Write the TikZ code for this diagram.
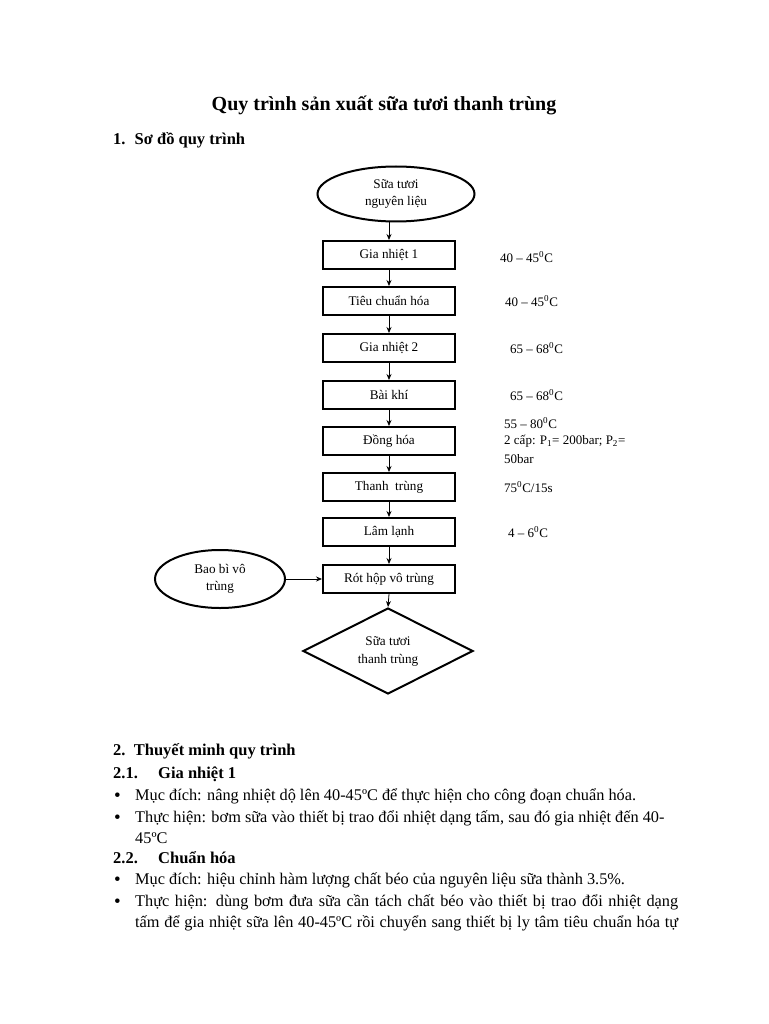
\documentclass[tikz,border=0pt]{standalone}
\usepackage{fontspec}
\setmainfont{Liberation Serif}
\usetikzlibrary{shapes.geometric,arrows.meta}
\begin{document}
\begin{tikzpicture}[x=1pt,y=-1pt,
  stepbox/.style={draw,line width=2pt,minimum width=132pt,minimum height=28pt,inner sep=0pt,font=\fontsize{13.2}{14}\selectfont},
  ellbox/.style={draw,line width=2pt,ellipse,inner sep=0pt,font=\fontsize{13.2}{17}\selectfont,align=center},
  diabox/.style={draw,line width=2pt,diamond,aspect=1.98,inner sep=0pt,minimum width=170pt,minimum height=86pt,font=\fontsize{13.2}{18}\selectfont,align=center},
  flow/.style={line width=0.8pt,-{Stealth[length=6pt,width=5pt]}},
  cond/.style={anchor=west,font=\fontsize{13}{18}\selectfont,inner sep=0pt},
  body/.style={anchor=base west,font=\fontsize{16.3}{20}\selectfont,inner sep=0pt},
  bul/.style={anchor=base west,font=\fontsize{19}{20}\selectfont,inner sep=0pt},
  head/.style={anchor=base west,font=\fontsize{16.5}{20}\selectfont\bfseries,inner sep=0pt}]
\useasboundingbox (0,0) rectangle (768,1024);
\fill[white] (0,0) rectangle (768,1024);
% title
\node[font=\fontsize{20}{22}\selectfont\bfseries,inner sep=0pt] (title) at (384,105) {Quy trình sản xuất sữa tươi thanh trùng};
\node[head,anchor=west] (s1) at (113,140) {1.\hspace{0.55em}Sơ đồ quy trình};
% flowchart
\node[ellbox,minimum width=157pt,minimum height=55pt] (e1) at (396,194) {Sữa tươi\\nguyên liệu};
\node[stepbox] (b1) at (389,255) {Gia nhiệt 1};
\node[stepbox] (b2) at (389,301) {Tiêu chuẩn hóa};
\node[stepbox] (b3) at (389,348) {Gia nhiệt 2};
\node[stepbox] (b4) at (389,395) {Bài khí};
\node[stepbox] (b5) at (389,441) {Đồng hóa};
\node[stepbox] (b6) at (389,487) {Thanh\ \ trùng};
\node[stepbox] (b7) at (389,532) {Lâm lạnh};
\node[stepbox] (b8) at (389,579) {Rót hộp vô trùng};
\node[diabox] (d1) at (388,651) {Sữa tươi\\thanh trùng};
\node[ellbox,minimum width=130pt,minimum height=58pt] (e2) at (220,579) {Bao bì vô\\trùng};
\coordinate (e1b) at (389,221);
\draw[flow] (e1b) -- (b1.north);
\draw[flow] (b1) -- (b2);
\draw[flow] (b2) -- (b3);
\draw[flow] (b3) -- (b4);
\draw[flow] (b4) -- (b5);
\draw[flow] (b5) -- (b6);
\draw[flow] (b6) -- (b7);
\draw[flow] (b7) -- (b8);
\draw[flow] (b8.south) -- (d1.north);
\draw[flow] (e2.east) -- (b8.west);
% conditions
\node[cond] (c1) at (500,257) {40 – 45\textsuperscript{0}C};
\node[cond] (c2) at (505,301) {40 – 45\textsuperscript{0}C};
\node[cond] (c3) at (510,348) {65 – 68\textsuperscript{0}C};
\node[cond] (c4) at (510,395) {65 – 68\textsuperscript{0}C};
\node[cond] (c5) at (504,423) {55 – 80\textsuperscript{0}C};
\node[cond] (c6) at (504,441) {2 cấp: P\textsubscript{1}= 200bar; P\textsubscript{2}=};
\node[cond] (c7) at (504,459) {50bar};
\node[cond] (c8) at (504,487) {75\textsuperscript{0}C/15s};
\node[cond] (c9) at (508,532) {4 – 6\textsuperscript{0}C};
% text
\node[head] (h2) at (113,755) {2.\hspace{0.5em}Thuyết minh quy trình};
\node[head] (h21) at (113,778) {2.1.};
\node[head] (h21t) at (158,778) {Gia nhiệt 1};
\node[bul] (p1b) at (114,801) {•};
\node[body] (p1) at (135,800) {Mục đích: nâng nhiệt dộ lên 40-45ºC để thực hiện cho công đoạn chuẩn hóa.};
\node[bul] (p2b) at (114,823) {•};
\node[body] (p2) at (135,822) {Thực hiện: bơm sữa vào thiết bị trao đổi nhiệt dạng tấm, sau đó gia nhiệt đến 40-};
\node[body] (p2c) at (135,843) {45ºC};
\node[head] (h22) at (113,863) {2.2.};
\node[head] (h22t) at (158,863) {Chuẩn hóa};
\node[bul] (p3b) at (114,885) {•};
\node[body] (p3) at (135,884) {Mục đích: hiệu chỉnh hàm lượng chất béo của nguyên liệu sữa thành 3.5\%.};
\node[bul] (p4b) at (114,907) {•};
\node[body] (p4) at (135,906) {\makebox[543pt][s]{Thực hiện: dùng bơm đưa sữa cần tách chất béo vào thiết bị trao đổi nhiệt dạng}};
\node[body] (p4c) at (135,927) {\makebox[543pt][s]{tấm để gia nhiệt sữa lên 40-45ºC rồi chuyển sang thiết bị ly tâm tiêu chuẩn hóa tự}};
\end{tikzpicture}
\end{document}
